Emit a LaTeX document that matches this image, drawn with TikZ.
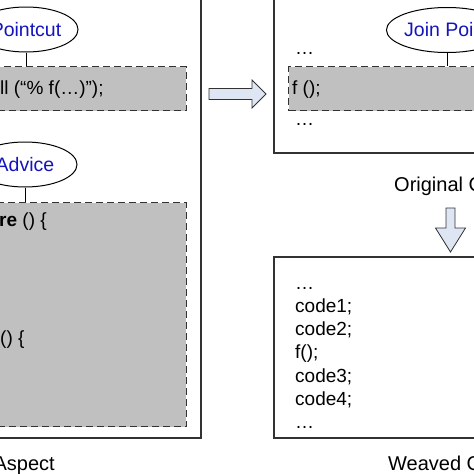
\documentclass[tikz,border=0pt]{standalone}
\usepackage{fontspec}
\setmainfont{Liberation Sans}
\usetikzlibrary{positioning, shapes.geometric}
\definecolor{codegray}{RGB}{192,192,192}
\definecolor{linegray}{RGB}{50,50,50}
\definecolor{tagblue}{RGB}{20,20,190}
\definecolor{arrowbg}{RGB}{222,230,244}

\begin{document}
\begin{tikzpicture}[x=1pt, y=1pt,
  frame/.style={draw=linegray, line width=1.7pt, inner sep=0pt},
  snippet/.style={draw=linegray, fill=codegray, dash pattern=on 7pt off 4pt,
                  line width=1.3pt, inner sep=0pt},
  tag/.style={ellipse, draw, line width=1pt, fill=white, minimum width=104pt,
              minimum height=45pt, inner sep=0pt, text=tagblue,
              font=\fontsize{19.5}{23}\selectfont},
  code/.style={anchor=base west, inner sep=0pt, font=\fontsize{19}{23}\selectfont},
  caption/.style={anchor=base west, inner sep=0pt, font=\fontsize{20}{24}\selectfont},
  hollow/.style={draw=linegray, line width=0.8pt, fill=arrowbg, line join=miter}
]
  \useasboundingbox (0,0) rectangle (474,-474);
  \clip (0,0) rectangle (474,-474);

  % outer boxes
  \node[frame, anchor=south east, minimum width=240pt, minimum height=470pt] (aspect) at (202,-439) {};
  \node[frame, anchor=south west, minimum width=240pt, minimum height=190pt] (orig) at (273,-154) {};
  \node[frame, anchor=south west, minimum width=240pt, minimum height=181pt] (weaved) at (273,-439) {};

  % dashed code parts
  \node[snippet, anchor=north east, minimum width=210pt, minimum height=44pt] (callbox) at (187,-66) {};
  \node[snippet, anchor=north east, minimum width=210pt, minimum height=224pt] (advbox) at (187,-202) {};
  \node[snippet, anchor=north west, minimum width=210pt, minimum height=44pt] (fbox) at (288,-66) {};

  \node[code] (calltxt) at (0,-94) {ll (“\% f(…)”);};
  \node[code] (before) at (-1,-226) {\textbf{re} () \{};
  \node[code] (after) at (0,-344) {() \{};

  \node[code] (odots1) at (295,-54) {…};
  \node[code] (fcall) at (292,-94) {f ();};
  \node[code] (odots2) at (295,-125) {…};

  \foreach \ln [count=\i from 0] in {…, code1;, code2;, f();, code3;, code4;, …}
    \node[code] (w\i) at (295,-289-23.3*\i) {\ln};

  % tags
  \node[tag] (pc) at (26,-29.5) {Pointcut};
  \node[tag] (adv) at (25,-164.5) {Advice};
  \node[tag] (jp) at (447,-30) {Join Point};
  \draw[line width=1pt] (pc.south) -- (pc.south |- callbox.north);
  \draw[line width=1pt] (adv.south) -- (adv.south |- advbox.north);
  \draw[line width=1pt] (jp.south) -- (jp.south |- fbox.north);

  % block arrows
  \draw[hollow] (209,-88.5) -- (252,-88.5) -- (252,-80) -- (266,-94)
    -- (252,-108) -- (252,-99.5) -- (209,-99.5) -- cycle;
  \draw[hollow] (446,-208) -- (446,-228) -- (435.5,-228) -- (450.5,-252)
    -- (465.5,-228) -- (455,-228) -- (455,-208) -- cycle;

  % captions
  \node[caption, anchor=base east] (asplbl) at (55,-470) {Aspect};
  \node[caption] (origlbl) at (394,-191) {Original C};
  \node[caption] (weavlbl) at (388,-470) {Weaved C};
\end{tikzpicture}
\end{document}
